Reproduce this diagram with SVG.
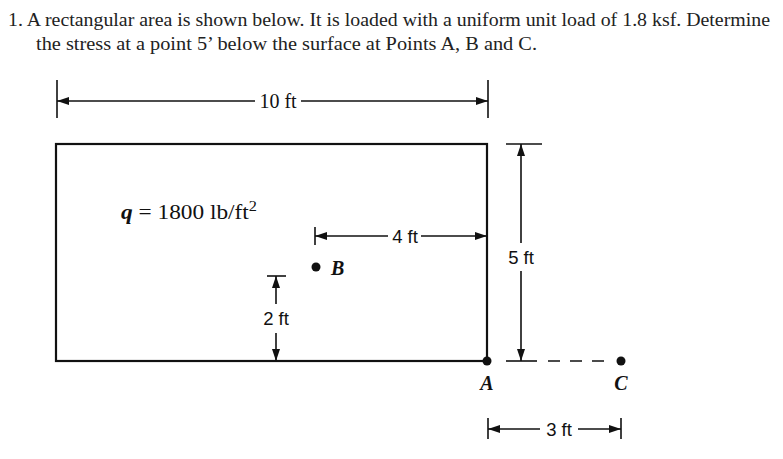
<svg xmlns="http://www.w3.org/2000/svg" width="783" height="459" viewBox="0 0 783 459">
<defs>
<marker id="ah" viewBox="0 0 12 8" refX="12" refY="4" markerWidth="12" markerHeight="8" markerUnits="userSpaceOnUse" orient="auto-start-reverse">
<path d="M0,0 L12,4 L0,8 Z" fill="#111"/>
</marker>
<style>
.hdr{font-family:"Liberation Serif",serif;font-size:19.5px;fill:#222}
.lbl{font-family:"Liberation Serif",serif;font-size:20px;fill:#111}
.dim{font-family:"Liberation Sans",sans-serif;font-size:18.5px;fill:#111}
.pt{font-family:"Liberation Serif",serif;font-size:20px;font-style:italic;font-weight:bold;fill:#111}
.ln{stroke:#111;stroke-width:1.6;fill:none}
.arr{stroke:#111;stroke-width:1.6;fill:none;marker-end:url(#ah)}
</style>
</defs>
<rect width="783" height="459" fill="#fff"/>
<g id="header">
<text class="hdr" x="8" y="26" textLength="762" lengthAdjust="spacingAndGlyphs">1. A rectangular area is shown below. It is loaded with a uniform unit load of 1.8 ksf. Determine</text>
<text class="hdr" x="36" y="50" textLength="501" lengthAdjust="spacingAndGlyphs">the stress at a point 5’ below the surface at Points A, B and C.</text>
</g>
<g id="area">
<rect x="56" y="144" width="431" height="217" fill="none" stroke="#111" stroke-width="2.2"/>
<text class="lbl" x="121" y="219" textLength="136" lengthAdjust="spacingAndGlyphs"><tspan font-style="italic" font-weight="bold">q</tspan> = 1800 lb/ft<tspan font-size="14" dy="-8">2</tspan></text>
</g>
<g id="pointA">
<circle cx="487" cy="361" r="4.5" fill="#111"/>
<text class="pt" x="487" y="390" text-anchor="middle">A</text>
</g>
<g id="pointB">
<circle cx="316" cy="267" r="4.5" fill="#111"/>
<text class="pt" x="331" y="275">B</text>
</g>
<g id="pointC">
<circle cx="621" cy="361" r="4.5" fill="#111"/>
<text class="pt" x="621" y="390" text-anchor="middle">C</text>
</g>
<g id="connectors">
<line class="ln" x1="57" y1="80" x2="57" y2="118"/>
<line class="ln" x1="488" y1="80" x2="488" y2="118"/>
<line class="arr" x1="255" y1="101" x2="57" y2="101"/>
<line class="arr" x1="301" y1="101" x2="488" y2="101"/>
<line class="ln" x1="315" y1="227" x2="315" y2="245"/>
<line class="arr" x1="388" y1="236" x2="315" y2="236"/>
<line class="arr" x1="421" y1="236" x2="487" y2="236"/>
<line class="ln" x1="506" y1="144" x2="542" y2="144"/>
<line class="ln" x1="506" y1="361" x2="537" y2="361"/>
<line class="arr" x1="521" y1="243" x2="521" y2="144"/>
<line class="arr" x1="521" y1="271" x2="521" y2="361"/>
<line class="ln" x1="548" y1="361" x2="612" y2="361" stroke-dasharray="12,10"/>
<line class="ln" x1="267" y1="276" x2="286" y2="276"/>
<line class="arr" x1="276" y1="304" x2="276" y2="276"/>
<line class="arr" x1="276" y1="333" x2="276" y2="361"/>
<line class="ln" x1="488" y1="418" x2="488" y2="439"/>
<line class="ln" x1="621" y1="418" x2="621" y2="439"/>
<line class="arr" x1="540" y1="429" x2="488" y2="429"/>
<line class="arr" x1="578" y1="429" x2="621" y2="429"/>
</g>
<g id="labels">
<text class="lbl" x="278" y="108" text-anchor="middle">10 ft</text>
<text class="dim" x="405" y="243" text-anchor="middle">4 ft</text>
<text class="dim" x="521" y="264" text-anchor="middle">5 ft</text>
<text class="dim" x="276" y="325" text-anchor="middle">2 ft</text>
<text class="dim" x="559" y="436" text-anchor="middle">3 ft</text>
</g>
</svg>
